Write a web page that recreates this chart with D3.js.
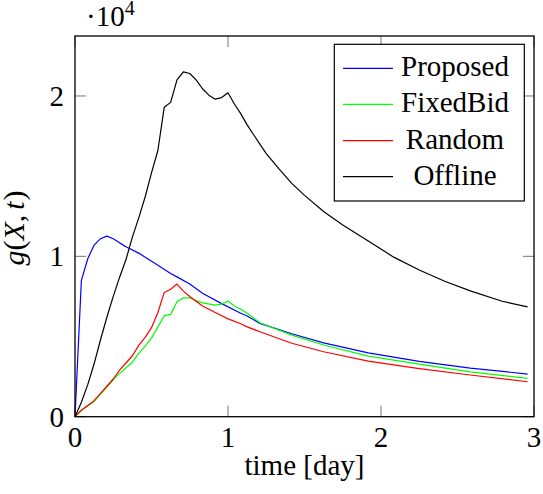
<!DOCTYPE html>
<html>
<head>
<meta charset="utf-8">
<script type="text/javascript" src="https://cdn.jsdelivr.net/npm/d3@7/dist/d3.min.js"></script>
<style>
  body { margin: 0; background: #fff; }
  text { font-family: "Liberation Serif", "Times New Roman", serif; fill: #000; }
</style>
</head>
<body>
<svg id="chart" width="543" height="494"></svg>
<script>
// time is in hours (x axis shows days)
var offline_hours = [0, 1, 2, 3, 4, 5, 6, 7, 8, 9, 10, 11, 12, 13, 14, 15, 16, 17, 18, 19, 20, 21, 22, 23, 24, 25, 26, 27, 28, 29, 30, 32, 34, 36, 39, 42, 46, 50, 54, 58, 62, 67, 71];
var offline_vals = [0, 900, 2000, 3300, 4800, 6200, 7500, 8700, 9800, 11200, 12400, 13700, 15200, 16600, 19300, 19600, 21000, 21500, 21400, 21000, 20450, 20050, 19800, 19900, 20200, 19500, 18900, 18200, 17600, 17000, 16400, 15450, 14550, 13800, 12800, 11950, 10950, 9950, 9150, 8450, 7850, 7200, 6850];

var proposed_hours = [0, 1, 2, 3, 4, 5, 6, 7, 8, 10, 13, 15, 16, 18, 20, 23, 26, 27, 29, 34, 39, 46, 54, 62, 71];
var proposed_vals = [0, 8500, 9850, 10700, 11100, 11260, 11100, 10840, 10600, 10200, 9450, 8930, 8720, 8270, 7700, 7050, 6450, 6280, 5820, 5170, 4600, 3980, 3450, 3030, 2660];

var fixedbid_hours = [0, 1, 3, 5, 6, 7, 8, 9, 10, 11, 12, 13, 14, 15, 16, 17, 18, 19, 20, 22, 23, 24, 25, 26, 27, 29, 34, 39, 46, 54, 62, 71];
var fixedbid_vals = [0, 400, 950, 1850, 2300, 2700, 3050, 3400, 3950, 4400, 4900, 5600, 6300, 6380, 7170, 7410, 7410, 7250, 7100, 6960, 7020, 7220, 6900, 6700, 6450, 5860, 5090, 4470, 3780, 3280, 2800, 2390];

var random_hours = [0, 1, 3, 4, 5, 6, 7, 8, 9, 10, 11, 12, 13, 14, 15, 16, 17, 18, 19, 20, 22, 24, 26, 27, 29, 34, 39, 46, 54, 62, 71];
var random_vals = [0, 400, 1000, 1450, 1900, 2350, 2900, 3350, 3800, 4450, 4950, 5550, 6500, 7750, 7950, 8270, 7830, 7500, 7200, 6900, 6500, 6100, 5800, 5600, 5300, 4580, 4050, 3470, 3000, 2600, 2180];

var series_names = ['Proposed', 'FixedBid', 'Random', 'Offline'];
var series_colors = ['#0000ff', '#00ff00', '#ff0000', '#000000'];
var x_ticks = [0, 1, 2, 3];
var y_ticks = [0, 10000, 20000];

function to_points(hours, vals) {
    var pts = [];
    for (var i = 0; i < hours.length; i++) {
        pts.push({day: hours[i] / 24, v: vals[i]});
    }
    return pts;
}

var all_series = [
    to_points(proposed_hours, proposed_vals),
    to_points(fixedbid_hours, fixedbid_vals),
    to_points(random_hours, random_vals),
    to_points(offline_hours, offline_vals)
];

// careful: "top" is taken by window.top
var p_left = 75, p_right = 534, p_top = 36, p_bottom = 416.7;

var x = d3.scaleLinear().domain([0, 3]).range([p_left, p_right]);
var y = d3.scaleLinear().domain([0, 23740]).range([p_bottom, p_top]);

var svg = d3.select('#chart');

var line = d3.line()
    .x(function(d) { return x(d.day); })
    .y(function(d) { return y(d.v); });

var draw_order = [0, 1, 2, 3];
svg.append('g').selectAll('path')
    .data(draw_order)
    .enter()
    .append('path')
    .attr('d', function(i) { return line(all_series[i]); })
    .attr('fill', 'none')
    .attr('stroke', function(i) { return series_colors[i]; })
    .attr('stroke-width', 1.2)
    .attr('stroke-linejoin', 'round');

// ticks, inward on all four sides
var tick_len = 11;
var ticks = svg.append('g').attr('stroke', '#666').attr('stroke-width', 0.9);
ticks.selectAll('.xb').data(x_ticks).enter().append('line')
    .attr('x1', function(d) { return x(d); }).attr('x2', function(d) { return x(d); })
    .attr('y1', p_bottom).attr('y2', p_bottom - tick_len);
ticks.selectAll('.xt').data(x_ticks).enter().append('line')
    .attr('x1', function(d) { return x(d); }).attr('x2', function(d) { return x(d); })
    .attr('y1', p_top).attr('y2', p_top + tick_len);
ticks.selectAll('.yl').data(y_ticks).enter().append('line')
    .attr('x1', p_left).attr('x2', p_left + tick_len)
    .attr('y1', function(d) { return y(d); }).attr('y2', function(d) { return y(d); });
ticks.selectAll('.yr').data(y_ticks).enter().append('line')
    .attr('x1', p_right).attr('x2', p_right - tick_len)
    .attr('y1', function(d) { return y(d); }).attr('y2', function(d) { return y(d); });

// frame
svg.append('rect')
    .attr('x', p_left).attr('y', p_top)
    .attr('width', p_right - p_left).attr('height', p_bottom - p_top)
    .attr('fill', 'none').attr('stroke', '#000').attr('stroke-width', 1.3);

// tick labels
svg.append('g').selectAll('text').data(x_ticks).enter().append('text')
    .attr('x', function(d) { return x(d); })
    .attr('y', 447)
    .attr('text-anchor', 'middle')
    .attr('font-size', 29)
    .text(function(d) { return d; });

svg.append('g').selectAll('text').data(y_ticks).enter().append('text')
    .attr('x', 64)
    .attr('y', function(d) { return y(d) + 10; })
    .attr('text-anchor', 'end')
    .attr('font-size', 29)
    .text(function(d) { return d / 10000; });

// scale note
var note = svg.append('text').attr('x', 86).attr('y', 26).attr('font-size', 29);
note.append('tspan').text('\u00b710');
note.append('tspan').attr('font-size', 20).attr('dy', -11).text('4');

// axis labels
svg.append('text')
    .attr('x', (p_left + p_right) / 2)
    .attr('y', 475)
    .attr('text-anchor', 'middle')
    .attr('font-size', 29)
    .text('time [day]');

var ylab = svg.append('text')
    .attr('transform', 'translate(24,228) rotate(-90)')
    .attr('text-anchor', 'middle')
    .attr('font-size', 30);
ylab.append('tspan').attr('font-style', 'italic').text('g');
ylab.append('tspan').text('(');
ylab.append('tspan').attr('font-style', 'italic').text('X');
ylab.append('tspan').text(',');
ylab.append('tspan').attr('font-style', 'italic').attr('dx', 5).text('t');
ylab.append('tspan').attr('dx', 1).text(')');

// legend
var legend = svg.append('g');
legend.append('rect')
    .attr('x', 334.3).attr('y', 44.3)
    .attr('width', 190).attr('height', 156.7)
    .attr('fill', '#fff').attr('stroke', '#000').attr('stroke-width', 1.2);

var row_y = d3.scaleLinear().domain([0, 3]).range([68.3, 176.7]);
var rows = legend.selectAll('g.row').data(series_names).enter().append('g');
rows.append('line')
    .attr('x1', 343).attr('x2', 393)
    .attr('y1', function(d, i) { return row_y(i); })
    .attr('y2', function(d, i) { return row_y(i); })
    .attr('stroke', function(d, i) { return series_colors[i]; })
    .attr('stroke-width', 1.2);
rows.append('text')
    .attr('x', 455)
    .attr('y', function(d, i) { return row_y(i) + 8; })
    .attr('text-anchor', 'middle')
    .attr('font-size', 29)
    .text(function(d) { return d; });
</script>
</body>
</html>
